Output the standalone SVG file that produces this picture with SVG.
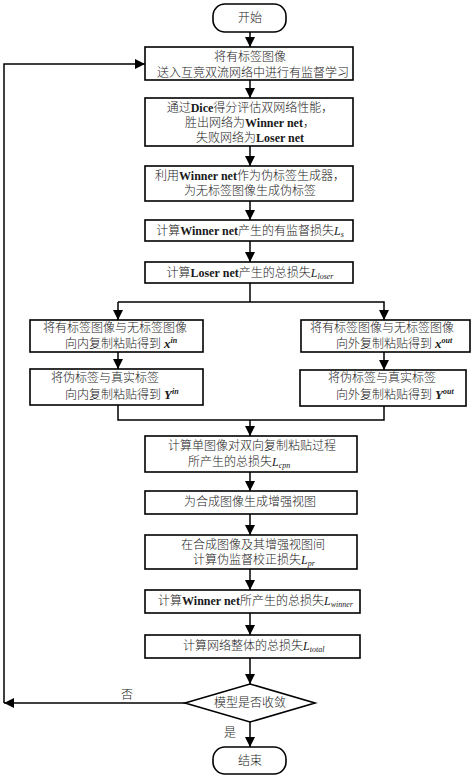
<svg xmlns="http://www.w3.org/2000/svg" width="474" height="777" viewBox="0 0 474 777">
<style>
.b{fill:#fff;stroke:#000;stroke-width:1.6}
.c{fill:none;stroke:#000;stroke-width:1.5}
text{font-family:"Liberation Serif","Noto Sans CJK SC",serif;font-size:12px;fill:#1a1a1a;font-weight:300}
.m{text-anchor:middle}
.e{font-weight:bold}
.i{font-style:italic;font-weight:normal}
.s{font-size:8px;font-style:italic;font-weight:normal}
.x{font-weight:bold;font-style:italic;font-size:13px}
.xs{font-weight:bold;font-style:italic;font-size:8px}
</style>
<defs>
<marker id="a" markerUnits="userSpaceOnUse" markerWidth="10" markerHeight="10" refX="10" refY="5" orient="auto">
<path d="M0,0 L10,5 L0,10 Z" fill="#000"/>
</marker>
</defs>
<rect width="474" height="777" fill="#fff"/>
<g id="connectors">
<line class="c" x1="250" y1="32" x2="250" y2="47" marker-end="url(#a)"/>
<line class="c" x1="250" y1="80" x2="250" y2="98" marker-end="url(#a)"/>
<line class="c" x1="250" y1="146" x2="250" y2="166" marker-end="url(#a)"/>
<line class="c" x1="250" y1="201" x2="250" y2="220" marker-end="url(#a)"/>
<line class="c" x1="250" y1="241" x2="250" y2="262" marker-end="url(#a)"/>
<polyline class="c" points="250,283 250,302"/>
<polyline class="c" points="118,302 384,302 384,320" marker-end="url(#a)"/>
<line class="c" x1="118" y1="302" x2="118" y2="320" marker-end="url(#a)"/>
<line class="c" x1="118" y1="352" x2="118" y2="369" marker-end="url(#a)"/>
<line class="c" x1="384" y1="352" x2="384" y2="370" marker-end="url(#a)"/>
<polyline class="c" points="118,405 118,420 384,420 384,406"/>
<line class="c" x1="250" y1="420" x2="250" y2="436" marker-end="url(#a)"/>
<line class="c" x1="250" y1="472" x2="250" y2="491" marker-end="url(#a)"/>
<line class="c" x1="250" y1="514" x2="250" y2="535" marker-end="url(#a)"/>
<line class="c" x1="250" y1="569" x2="250" y2="590" marker-end="url(#a)"/>
<line class="c" x1="250" y1="613" x2="250" y2="635" marker-end="url(#a)"/>
<line class="c" x1="250" y1="658" x2="250" y2="684" marker-end="url(#a)"/>
<line class="c" x1="185" y1="703" x2="4" y2="703" marker-end="url(#a)"/>
<polyline class="c" points="4,703 4,64 145,64" marker-end="url(#a)"/>
<line class="c" x1="250" y1="722" x2="250" y2="747" marker-end="url(#a)"/>
<text x="127" y="699" class="m">否</text>
<text x="230" y="737" class="m">是</text>
</g>
<g id="start">
<rect class="b" x="213" y="4" width="73" height="28" rx="12"/>
<text x="250" y="22" class="m">开始</text>
</g>
<g id="n1">
<rect class="b" x="145" y="47" width="208" height="33"/>
<text x="250" y="61" class="m">将有标签图像</text>
<text x="253" y="77" class="m">送入互竞双流网络中进行有监督学习</text>
</g>
<g id="n2">
<rect class="b" x="145" y="98" width="208" height="48"/>
<text x="250" y="112" class="m">通过<tspan class="e">Dice</tspan>得分评估双网络性能，</text>
<text x="250" y="127" class="m">胜出网络为<tspan class="e">Winner net</tspan>，</text>
<text x="250" y="142" class="m">失败网络为<tspan class="e">Loser net</tspan></text>
</g>
<g id="n3">
<rect class="b" x="145" y="166" width="208" height="35"/>
<text x="250" y="180" class="m">利用<tspan class="e">Winner net</tspan>作为伪标签生成器，</text>
<text x="250" y="195" class="m">为无标签图像生成伪标签</text>
</g>
<g id="n4">
<rect class="b" x="145" y="220" width="208" height="21"/>
<text x="250" y="235" class="m">计算<tspan class="e">Winner net</tspan>产生的有监督损失<tspan class="i">L</tspan><tspan class="s" dy="2">s</tspan></text>
</g>
<g id="n5">
<rect class="b" x="145" y="262" width="208" height="21"/>
<text x="250" y="277" class="m">计算<tspan class="e">Loser net</tspan>产生的总损失<tspan class="i">L</tspan><tspan class="s" dy="2">loser</tspan></text>
</g>
<g id="l1">
<rect class="b" x="30" y="320" width="173" height="32"/>
<text x="115" y="332" class="m">将有标签图像与无标签图像</text>
<text x="65" y="348">向内复制粘贴得到 <tspan class="x">x</tspan><tspan class="xs" dy="-5">in</tspan></text>
</g>
<g id="l2">
<rect class="b" x="30" y="369" width="173" height="36"/>
<text x="105" y="382" class="m">将伪标签与真实标签</text>
<text x="65" y="399">向内复制粘贴得到 <tspan class="x">Y</tspan><tspan class="xs" dy="-5">in</tspan></text>
</g>
<g id="r1">
<rect class="b" x="301" y="320" width="169" height="32"/>
<text x="382" y="332" class="m">将有标签图像与无标签图像</text>
<text x="336" y="348">向外复制粘贴得到 <tspan class="x">x</tspan><tspan class="xs" dy="-5">out</tspan></text>
</g>
<g id="r2">
<rect class="b" x="300" y="370" width="166" height="36"/>
<text x="382" y="382" class="m">将伪标签与真实标签</text>
<text x="336" y="399">向外复制粘贴得到 <tspan class="x">Y</tspan><tspan class="xs" dy="-5">out</tspan></text>
</g>
<g id="n6">
<rect class="b" x="145" y="436" width="212" height="36"/>
<text x="252" y="450" class="m">计算单图像对双向复制粘贴过程</text>
<text x="188" y="466">所产生的总损失<tspan class="i">L</tspan><tspan class="s" dy="2">cpn</tspan></text>
</g>
<g id="n7">
<rect class="b" x="145" y="491" width="212" height="23"/>
<text x="250" y="506" class="m">为合成图像生成增强视图</text>
</g>
<g id="n8">
<rect class="b" x="145" y="535" width="212" height="34"/>
<text x="253" y="549" class="m">在合成图像及其增强视图间</text>
<text x="193" y="564">计算伪监督校正损失<tspan class="i">L</tspan><tspan class="s" dy="2">pr</tspan></text>
</g>
<g id="n9">
<rect class="b" x="145" y="590" width="215" height="23"/>
<text x="158" y="605">计算<tspan class="e">Winner net</tspan>所产生的总损失<tspan class="i">L</tspan><tspan class="s" dy="2">winner</tspan></text>
</g>
<g id="n10">
<rect class="b" x="145" y="635" width="215" height="23"/>
<text x="183" y="650">计算网络整体的总损失<tspan class="i">L</tspan><tspan class="s" dy="2">total</tspan></text>
</g>
<g id="decision">
<polygon class="b" points="250,684 315,703 250,722 185,703"/>
<text x="250" y="707" class="m">模型是否收敛</text>
</g>
<g id="end">
<rect class="b" x="213" y="747" width="73" height="27" rx="12"/>
<text x="250" y="765" class="m">结束</text>
</g>
</svg>
